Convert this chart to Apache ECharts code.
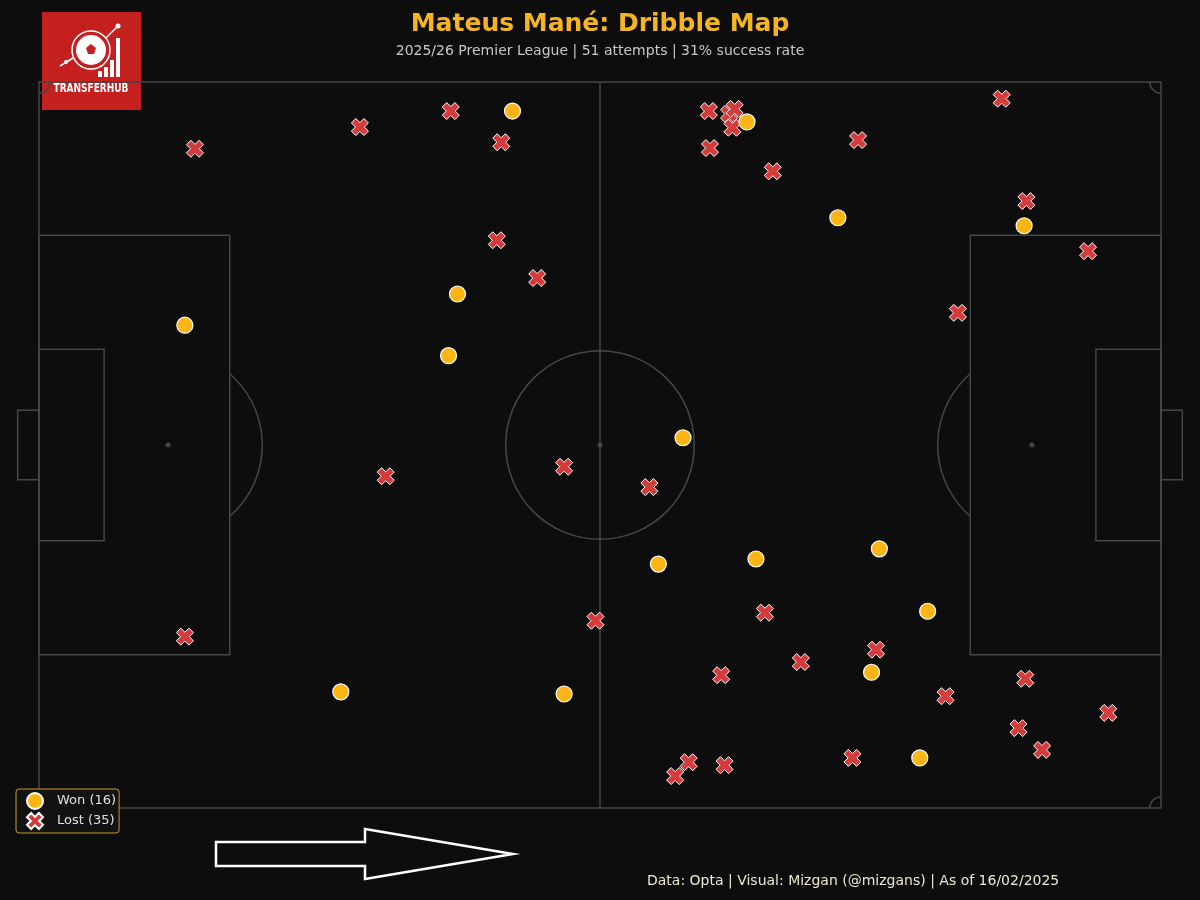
<!DOCTYPE html>
<html>
<head>
<meta charset="utf-8">
<title>Dribble Map</title>
<script src="https://cdn.jsdelivr.net/npm/echarts@6/dist/echarts.min.js"></script>
<style>
  html, body { margin: 0; padding: 0; background: #0d0d0d; }
  #chart { width: 1200px; height: 900px; }
</style>
</head>
<body>
<div id="chart"></div>
<script>
// dribble attempts in Opta pitch units (x: 0-100 towards attack, y: 0-100 bottom to top)
var wonX = [42.2, 63.1, 71.2, 87.8, 37.3, 13.0, 36.5, 57.4, 55.2, 63.9, 74.9, 79.2, 74.2, 26.9, 46.8, 78.5];
var wonY = [96.0, 94.5, 81.3, 80.2, 70.8, 66.5, 62.3, 51.0, 33.6, 34.3, 35.7, 27.1, 18.7, 16.0, 15.7, 6.9];

var lostX = [13.9, 28.6, 36.7, 41.2, 59.7, 61.5, 62.0, 61.8, 59.8, 65.4, 73.0, 85.8, 88.0, 93.5,
             40.8, 44.4, 81.9, 30.9, 46.8, 54.4, 13.0, 49.6, 64.7, 74.6, 67.9, 60.8, 80.8, 87.9,
             95.3, 87.3, 89.4, 72.5, 57.9, 56.7, 61.1];
var lostY = [90.8, 93.8, 96.0, 91.7, 96.0, 95.6, 96.3, 93.7, 90.9, 87.7, 92.0, 97.7, 83.6, 76.7,
             78.2, 73.0, 68.2, 45.7, 47.0, 44.2, 23.6, 25.8, 26.9, 21.8, 20.1, 18.3, 15.4, 17.8,
             13.1, 11.0, 8.0, 6.9, 6.3, 4.4, 5.9];

var seriesNames = ['Won (16)', 'Lost (35)'];

// pitch markings (Opta units)
var pitchRects = [
    [0, 0, 100, 100],
    [0, 21.1, 17, 78.9],
    [83, 21.1, 100, 78.9],
    [0, 36.8, 5.8, 63.2],
    [94.2, 36.8, 100, 63.2],
    [-1.9, 45.2, 0, 54.8],
    [100, 45.2, 101.9, 54.8]
];
var penaltySpots = [[11.5, 50], [88.5, 50]];
var circleRadius = 8.4;   // in x units
var cornerRadius = 1.0;

function pairs(xs, ys) {
    return xs.map(function (x, i) { return [x, ys[i]]; });
}

var crossPath = 'path://M0,2.6 L2.6,0 L5,2.4 L7.4,0 L10,2.6 L7.6,5 L10,7.4 L7.4,10 L5,7.6 L2.6,10 L0,7.4 L2.4,5 Z';
var lineColor = '#464646';

function renderPitch(params, api) {
    var kids = [];
    var st = { stroke: lineColor, lineWidth: 1.5, fill: null };
    pitchRects.forEach(function (r) {
        var a = api.coord([r[0], r[3]]);
        var b = api.coord([r[2], r[1]]);
        kids.push({ type: 'rect', shape: { x: a[0], y: a[1], width: b[0] - a[0], height: b[1] - a[1] }, style: st });
    });
    var top = api.coord([50, 100]), bot = api.coord([50, 0]);
    kids.push({ type: 'line', shape: { x1: top[0], y1: top[1], x2: bot[0], y2: bot[1] }, style: st });
    var rad = api.size([circleRadius, 0])[0];
    var c = api.coord([50, 50]);
    kids.push({ type: 'circle', shape: { cx: c[0], cy: c[1], r: rad }, style: st });
    kids.push({ type: 'circle', shape: { cx: c[0], cy: c[1], r: 2.5 }, style: { fill: lineColor } });
    penaltySpots.forEach(function (p, i) {
        var s = api.coord(p);
        kids.push({ type: 'circle', shape: { cx: s[0], cy: s[1], r: 2.5 }, style: { fill: lineColor } });
        var edge = api.coord([i === 0 ? 17 : 83, 50])[0];
        var ang = Math.acos(Math.abs(edge - s[0]) / rad);
        var base = i === 0 ? 0 : Math.PI;
        kids.push({ type: 'arc', shape: { cx: s[0], cy: s[1], r: rad, startAngle: base - ang, endAngle: base + ang, clockwise: true }, style: st });
    });
    var cr = api.size([cornerRadius, 0])[0];
    var corners = [[0, 100, 0], [100, 100, 0.5], [100, 0, 1], [0, 0, 1.5]];
    corners.forEach(function (k) {
        var p = api.coord([k[0], k[1]]);
        kids.push({ type: 'arc', shape: { cx: p[0], cy: p[1], r: cr, startAngle: k[2] * Math.PI, endAngle: (k[2] + 0.5) * Math.PI, clockwise: true }, style: st });
    });
    return { type: 'group', children: kids };
}

var chart = echarts.init(document.getElementById('chart'));
chart.setOption({
    backgroundColor: '#0d0d0d',
    animation: false,
    title: {
        text: 'Mateus Mané: Dribble Map',
        subtext: '2025/26 Premier League | 51 attempts | 31% success rate',
        left: 'center',
        top: 7,
        itemGap: 7,
        textStyle: { color: '#f5b521', fontSize: 25, fontWeight: 'bold', fontFamily: 'DejaVu Sans' },
        subtextStyle: { color: '#c8c8c8', fontSize: 14, fontFamily: 'DejaVu Sans' }
    },
    grid: { left: 39, right: 39, top: 82, bottom: 92 },
    xAxis: { type: 'value', min: 0, max: 100, show: false },
    yAxis: { type: 'value', min: 0, max: 100, show: false },
    legend: {
        orient: 'vertical',
        left: 16,
        top: 789,
        padding: [3, 3, 3, 10],
        itemGap: 2,
        itemWidth: 16,
        itemHeight: 16,
        backgroundColor: '#121212',
        borderColor: '#c89b2a',
        borderWidth: 1,
        borderRadius: 3,
        textStyle: { color: '#e0e0e0', fontSize: 13, fontFamily: 'DejaVu Sans', padding: [0, 0, 0, 9] },
        data: [
            { name: seriesNames[0], icon: 'circle' },
            { name: seriesNames[1], icon: crossPath }
        ]
    },
    series: [
        {
            type: 'custom',
            silent: true,
            clip: false,
            renderItem: renderPitch,
            data: [[0, 0]],
            z: 1
        },
        {
            name: seriesNames[1],
            type: 'scatter',
            symbol: crossPath,
            symbolSize: 17,
            itemStyle: { color: '#d63b3b', borderColor: '#ffffff', borderWidth: 1, opacity: 1 },
            data: pairs(lostX, lostY),
            z: 3
        },
        {
            name: seriesNames[0],
            type: 'scatter',
            symbol: 'circle',
            symbolSize: 16,
            itemStyle: { color: '#fdb515', borderColor: '#ffffff', borderWidth: 1.2, opacity: 1 },
            data: pairs(wonX, wonY),
            z: 4
        }
    ],
    graphic: [
        // logo
        { type: 'group', z: 100, children: [
            { type: 'rect', shape: { x: 42, y: 12, width: 99, height: 98 }, style: { fill: '#c4201f' } },
            { type: 'polyline', shape: { points: [[60, 66], [78, 55], [104, 40], [118, 26]] }, style: { stroke: '#fff', lineWidth: 1.5, fill: null } },
            { type: 'circle', shape: { cx: 118, cy: 26, r: 2.5 }, style: { fill: '#fff' } },
            { type: 'circle', shape: { cx: 66, cy: 62, r: 2 }, style: { fill: '#fff' } },
            { type: 'circle', shape: { cx: 91, cy: 50, r: 19 }, style: { fill: '#c4201f', stroke: '#fff', lineWidth: 1.5 } },
            { type: 'circle', shape: { cx: 91, cy: 50, r: 15 }, style: { fill: '#fff' } },
            { type: 'polygon', shape: { points: [[91, 44], [96, 48], [94, 54], [88, 54], [86, 48]] }, style: { fill: '#c4201f' } },
            { type: 'rect', shape: { x: 98, y: 71, width: 4, height: 6 }, style: { fill: '#fff' } },
            { type: 'rect', shape: { x: 104, y: 67, width: 4, height: 10 }, style: { fill: '#fff' } },
            { type: 'rect', shape: { x: 110, y: 60, width: 4, height: 17 }, style: { fill: '#fff' } },
            { type: 'rect', shape: { x: 116, y: 38, width: 4, height: 39 }, style: { fill: '#fff' } },
            { type: 'text', x: 91, y: 89, scaleX: 0.8, style: { text: 'TRANSFERHUB', fill: '#fff', align: 'center', verticalAlign: 'middle',
              font: 'bold 12.5px "DejaVu Sans Condensed"' } }
        ] },
        // direction of play arrow
        { type: 'polygon', shape: { points: [[216, 842], [365, 842], [365, 829], [513, 854], [365, 879], [365, 866], [216, 866]] },
          style: { fill: null, stroke: '#ffffff', lineWidth: 2.5 } },
        // footer
        { type: 'text', left: 647, top: 874, style: { text: 'Data: Opta | Visual: Mizgan (@mizgans) | As of 16/02/2025', fill: '#ebe8d2', font: '14px "DejaVu Sans"' } }
    ]
});
</script>
</body>
</html>
